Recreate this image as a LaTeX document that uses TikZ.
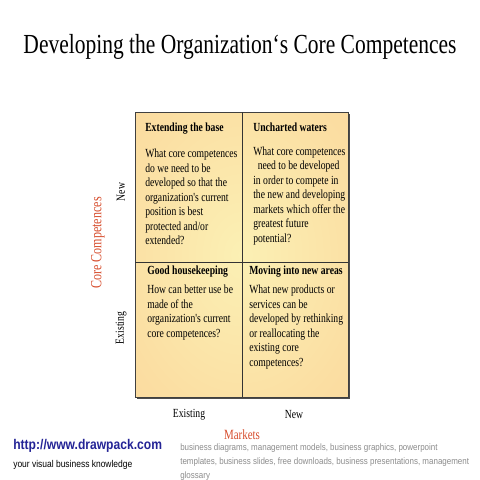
\documentclass[tikz,border=0pt]{standalone}
\usepackage{fontspec}
\setmainfont{Liberation Serif}
\setsansfont{Liberation Sans}
\newfontfamily\narrowserif[FakeStretch=0.78]{Liberation Serif}
\newfontfamily\narrowsans[FakeStretch=0.86]{Liberation Sans}
\usetikzlibrary{positioning}
\definecolor{peach}{RGB}{251,203,148}
\definecolor{midpeach}{RGB}{251,222,162}
\definecolor{paleyellow}{RGB}{251,240,180}
\definecolor{labelred}{RGB}{214,76,44}
\definecolor{linkblue}{RGB}{36,36,150}
\definecolor{footgrey}{RGB}{140,140,140}
\pgfdeclareradialshading{quadglow}{\pgfpoint{0bp}{0bp}}{color(0bp)=(paleyellow); color(30bp)=(midpeach); color(71bp)=(peach)}

\begin{document}
\begin{tikzpicture}[
  x=0.025cm, y=-0.025cm,
  quadhead/.style={anchor=north west, inner sep=0pt, font=\narrowserif\bfseries\fontsize{8.8}{10.3}\selectfont},
  quadtext/.style={inner sep=0pt, align=left, font=\narrowserif\fontsize{8.8}{10.3}\selectfont},
  axislabel/.style={inner sep=0pt, font=\narrowserif\fontsize{8.8}{10}\selectfont},
  axistitle/.style={inner sep=0pt, text=labelred, font=\narrowserif\fontsize{11}{12}\selectfont},
]
  \useasboundingbox (0,0) rectangle (480,480);

  % title
  \node[inner sep=0pt, font=\narrowserif\fontsize{19.6}{21}\selectfont] (title) at (240,47) {Developing the Organization‘s Core Competences};

  % matrix with shadow
  \fill[gray!60!black] (136.5,113.5) rectangle (349.5,398.5);
  \shade[shading=quadglow, draw=gray!50!black, line width=0.5pt] (135,112) rectangle (348,397);
  \draw[gray!40!black, line width=0.6pt] (242,112) -- (242,397);
  \draw[gray!40!black, line width=0.6pt] (135,262) -- (348,262);

  % quadrants
  \node[quadhead] (tlhead) at (145,123) {Extending the base};
  \node[quadtext, below=10pt of tlhead.south west, anchor=north west] (tltext) {What core competences\\do we need to be\\developed so that the\\organization's current\\position is best\\protected and/or\\extended?};

  \node[quadhead] (trhead) at (253,123) {Uncharted waters};
  \node[quadtext, below=10pt of trhead.south west, anchor=north west] (trtext) {What core competences\\\ \,need to be developed\\in order to compete in\\the new and developing\\markets which offer the\\greatest future\\potential?};

  \node[quadhead] (blhead) at (147,266) {Good housekeeping};
  \node[quadtext, below=5pt of blhead.south west, anchor=north west] (bltext) {How can better use be\\made of the\\organization's current\\core competences?};

  \node[quadhead] (brhead) at (249,266) {Moving into new areas};
  \node[quadtext, below=5pt of brhead.south west, anchor=north west] (brtext) {What new products or\\services can be\\developed by rethinking\\or reallocating the\\existing core\\competences?};

  % axes
  \node[axislabel, rotate=90] (ynew) at (121,192) {New};
  \node[axislabel, rotate=90] (yexist) at (121,328) {Existing};
  \node[axistitle, rotate=90] (ytitle) at (98,243) {Core Competences};
  \node[axislabel] (xexist) at (189,415) {Existing};
  \node[axislabel] (xnew) at (294,415) {New};
  \node[axistitle, font=\narrowserif\fontsize{10}{11}\selectfont] (xtitle) at (242,435) {Markets};

  % footer
  \node[anchor=west, inner sep=0pt, text=linkblue, font=\narrowsans\bfseries\fontsize{10}{11}\selectfont] (link) at (13,446) {http://www.drawpack.com};
  \node[inner sep=0pt, font=\narrowsans\fontsize{7}{8}\selectfont, below=5pt of link.south west, anchor=north west] (slogan) {your visual business knowledge};
  \node[anchor=north west, inner sep=0pt, align=left, text=footgrey, font=\narrowsans\fontsize{6.6}{10}\selectfont] (keywords) at (180,443.5) {business diagrams, management models, business graphics, powerpoint\\templates, business slides, free downloads, business presentations, management\\glossary};
\end{tikzpicture}
\end{document}
